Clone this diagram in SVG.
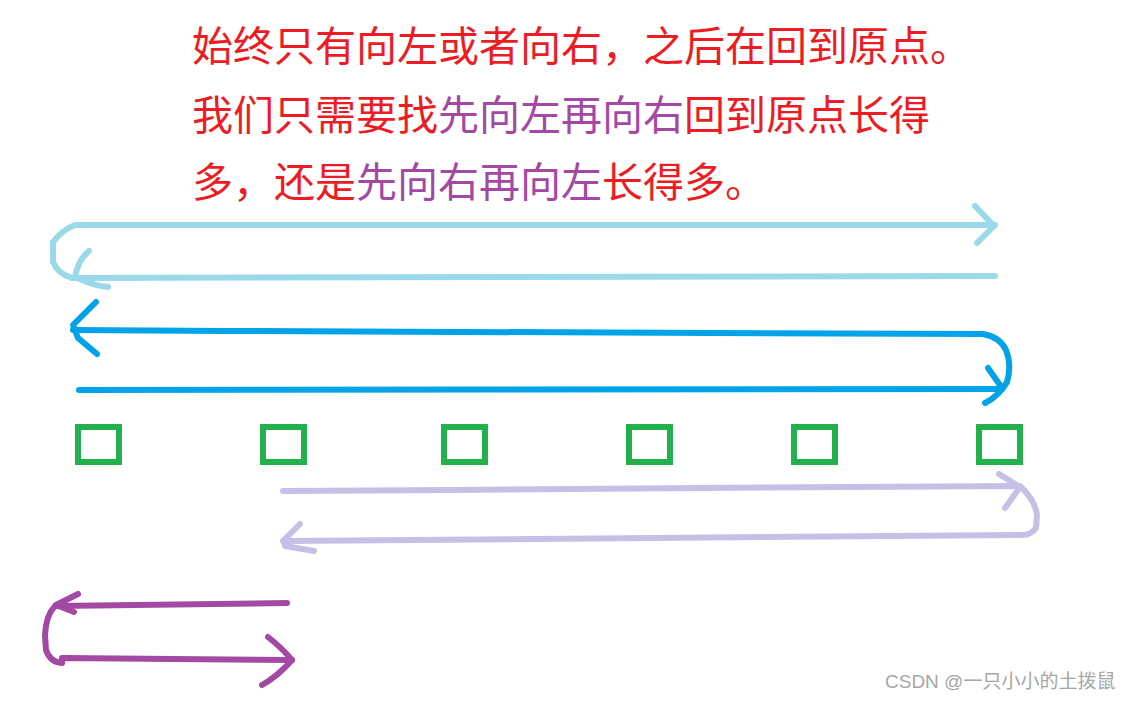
<svg xmlns="http://www.w3.org/2000/svg" width="1130" height="701" viewBox="0 0 1130 701">
<style>
.t{font-family:"Noto Sans CJK SC","Noto Sans CJK JP",sans-serif;font-size:41px;fill:#ed1c24}
.p{fill:#a349a4}
.s{fill:none;stroke-width:6;stroke-linecap:round;stroke-linejoin:round}
.lb{stroke:#99d9ea}
.b{stroke:#00a2e8}
.lv{stroke:#c8bfe7}
.pu{stroke:#a349a4}
.g{fill:none;stroke:#22b14c;stroke-width:6}
.w{font-family:"Liberation Sans","Noto Sans CJK SC",sans-serif;font-size:19px;fill:#a6a6a6}
</style>
<rect width="1130" height="701" fill="#ffffff"/>
<g id="text">
<text class="t" x="192" y="61">始终只有向左或者向右，之后在回到原点。</text>
<text class="t" x="192" y="130">我们只需要找<tspan class="p">先向左再向右</tspan>回到原点长得</text>
<text class="t" x="192" y="197">多，还是<tspan class="p">先向右再向左</tspan>长得多。</text>
</g>
<g id="connectors">
<g id="lightblue">
<path class="s lb" d="M995,225 L75,225 Q62,230 53,242 L53,262 Q58,274 72,278 L995,276"/>
<path class="s lb" d="M975,206 L994,226 L977,243"/>
<path class="s lb" d="M89,251 Q78,260 75,277"/>
<path class="s lb" d="M80,279 Q95,286 108,287"/>
</g>
<g id="blue">
<path class="s b" d="M73,330 L225,331 L983,334 Q1000,337 1006,350 Q1012,365 1007,382 Q999,396 985,403"/>
<path class="s b" d="M96,302 L73,325 L78,338 L97,354"/>
<path class="s b" d="M79,390 L1002,389"/>
<path class="s b" d="M988,368 L1002,388"/>
</g>
<g id="lavender">
<path class="s lv" d="M283,491 L450,490 L700,488 L1020,486 Q1035,500 1037,515 L1036,528 Q1030,536 1020,535 L283,541"/>
<path class="s lv" d="M999,474 L1020,487 L1005,508"/>
<path class="s lv" d="M300,524 L284,540 L285,546 L314,551"/>
</g>
<g id="purple">
<path class="s pu" d="M287,603 L55,606 Q46,615 45,635 L46,650 Q50,662 62,663 L62,658 L292,660"/>
<path class="s pu" d="M78,594 L56,605 L74,612"/>
<path class="s pu" d="M268,637 Q282,648 292,660 Q278,676 262,685"/>
</g>
</g>
<g id="squares">
<rect id="n1" class="g" x="78" y="427" width="41" height="35"/>
<rect id="n2" class="g" x="263" y="427" width="41" height="35"/>
<rect id="n3" class="g" x="444" y="427" width="41" height="35"/>
<rect id="n4" class="g" x="629" y="427" width="41" height="35"/>
<rect id="n5" class="g" x="794" y="427" width="41" height="35"/>
<rect id="n6" class="g" x="979" y="427" width="41" height="35"/>
</g>
<text class="w" x="885" y="688">CSDN @一只小小的土拨鼠</text>
</svg>
